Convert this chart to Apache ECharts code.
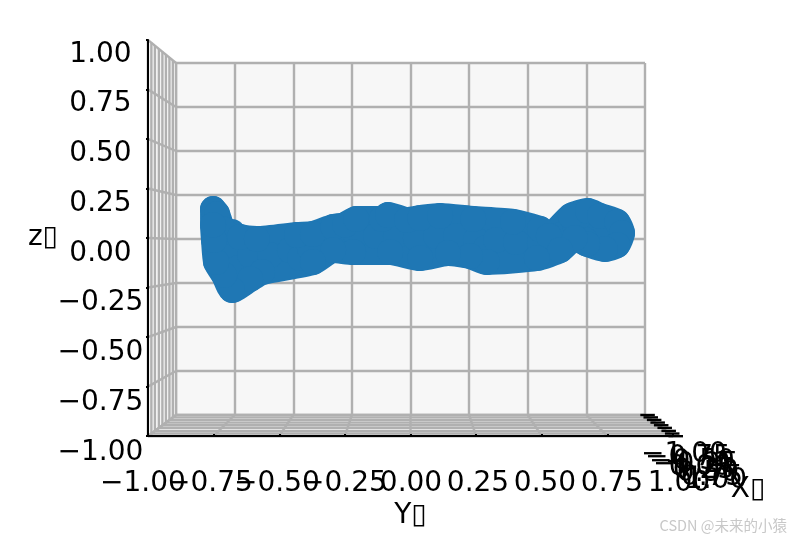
<!DOCTYPE html>
<html>
<head>
<meta charset="utf-8">
<script src="https://cdn.jsdelivr.net/npm/echarts@6/dist/echarts.min.js"></script>
<style>
  html, body { margin: 0; padding: 0; background: #fff; }
  #main { width: 793px; height: 539px; }
</style>
</head>
<body>
<div id="main"></div>
<script>
// tick values and labels (the same on all three axes)
const ticks = [-1, -0.75, -0.5, -0.25, 0, 0.25, 0.5, 0.75, 1];
const tickLabels = ['−1.00', '−0.75', '−0.50', '−0.25', '0.00', '0.25', '0.50', '0.75', '1.00'];
// how much bigger each x tick plane is than the back wall (perspective)
const depth = [1, 1.0135, 1.028, 1.043, 1.058, 1.073, 1.09, 1.105, 1.12];

// body silhouette: dots round the rim
const rimY = [-0.842, -0.825, -0.800, -0.727, -0.655, -0.484, -0.416, -0.330, -0.279, -0.232, -0.122, -0.096, -0.015, 0.041, 0.126, 0.267, 0.437, 0.552, 0.590, 0.684, 0.757, 0.808, 0.881, 0.902, 0.881, 0.829, 0.753, 0.701, 0.638, 0.539, 0.326, 0.254, 0.160, 0.041, -0.087, -0.245, -0.330, -0.416, -0.633, -0.684, -0.761, -0.795, -0.829, -0.838, -0.842];
const rimZ = [0.170, 0.142, 0.057, 0.011, 0, 0.023, 0.028, 0.068, 0.080, 0.114, 0.114, 0.136, 0.108, 0.119, 0.131, 0.114, 0.097, 0.057, 0.017, 0.131, 0.159, 0.131, 0.097, 0.034, -0.034, -0.057, -0.028, 0.006, -0.063, -0.108, -0.131, -0.097, -0.080, -0.108, -0.074, -0.074, -0.063, -0.131, -0.188, -0.227, -0.290, -0.205, -0.131, -0.006, 0.080];
// and dots inside it
const innerY = [-0.761, -0.736, -0.761, -0.684, -0.599, -0.514, -0.471, -0.429, -0.279, -0.232, -0.147, -0.062, 0.023, 0.109, 0.194, 0.279, 0.322, 0.365, 0.450, 0.552, 0.638, 0.701, 0.765, 0.808, 0.744];
const innerZ = [-0.063, -0.165, 0.040, -0.091, -0.091, -0.063, -0.108, -0.051, -0.006, 0.023, 0.017, 0.017, 0.006, 0.017, 0.017, -0.006, -0.051, -0.006, -0.017, -0.023, 0.023, 0.080, 0.063, 0.040, -0.006];

const font = 'DejaVu Sans';
const gridColor = '#b0b0b0';
const blue = '#1f77b4';
const dotSize = 26;
const fontSize = 28;

const chart = echarts.init(document.getElementById('main'), null, { renderer: 'canvas' });

// z on a plane at depth s, the front plane sits about a pixel higher than the back one
function zAt(z, s) {
  return z * (1 + (s - 1) * 1.05) + (s - 1) * 0.047;
}
const front = depth[depth.length - 1];

// left wall and floor panes
const panes = [
  [[-1, -1], [-front, zAt(-1, front)], [-front, zAt(1, front)], [-1, 1]],
  [[-1, -1], [-front, zAt(-1, front)], [front, zAt(-1, front)], [1, -1]]
];
// grey lines on left wall and floor
const wallLines = [];
depth.forEach(s => {
  wallLines.push([-s, zAt(-1, s), -s, zAt(1, s)]);
  wallLines.push([-s, zAt(-1, s), s, zAt(-1, s)]);
});
ticks.forEach(t => {
  wallLines.push([-1, t, -front, zAt(t, front)]);
  wallLines.push([t, -1, t * front, zAt(-1, front)]);
});
// x axis ticks, right of the floor
const xTickMarks = depth.map(s => [s - 0.02, zAt(-1, s), s + 0.042, zAt(-1, s)]);

function renderSegment(params, api) {
  const a = api.coord([api.value(0), api.value(1)]);
  const b = api.coord([api.value(2), api.value(3)]);
  return {
    type: 'line',
    shape: { x1: a[0], y1: a[1], x2: b[0], y2: b[1] },
    style: { stroke: api.visual('color'), lineWidth: 2.4 }
  };
}

const axisBase = { type: 'value', min: -1, max: 1, interval: 0.25 };
// label axes run one step past the ends, otherwise echarts drops a label next to the overlapping min
const labelAxis = { type: 'value', min: -1.25, max: 1.25, interval: 0.25 };
const labelStyle = {
  fontFamily: font,
  fontSize: fontSize,
  color: '#000',
  formatter: v => tickLabels[Math.round((v + 1) / 0.25)] || ''
};

// the x axis labels pile up at the lower right corner
const xPile = tickLabels.map((t, i) => ({
  type: 'text',
  x: 684 + i * 4,
  y: 455 + i * 3.2,
  style: { text: t, font: fontSize + 'px "' + font + '"', fill: '#000', textAlign: 'center', textVerticalAlign: 'middle' }
}));

chart.setOption({
  animation: false,
  backgroundColor: '#fff',
  grid: [
    { left: 176, top: 63, width: 469, height: 352, show: true, backgroundColor: '#f7f7f7', borderWidth: 0 }, // back wall
    { left: 148, top: 40, width: 525, height: 396 },  // front edges
    { left: 76, top: 4.5, width: 670, height: 497.5 }   // tick labels
  ],
  xAxis: [
    Object.assign({}, axisBase, {
      gridIndex: 0,
      axisLine: { show: false }, axisTick: { show: false }, axisLabel: { show: false },
      splitLine: { show: true, lineStyle: { color: gridColor, width: 2.4 } }
    }),
    Object.assign({}, axisBase, {
      gridIndex: 1, z: 10,
      name: 'Y▯', nameLocation: 'middle', nameGap: 66,
      nameTextStyle: { fontFamily: font, fontSize: fontSize, color: '#000' },
      axisLine: { onZero: false, lineStyle: { color: '#000', width: 2 } },
      axisTick: { show: true, inside: true, length: 2, lineStyle: { color: '#000', width: 2 } },
      axisLabel: { show: false }, splitLine: { show: false }
    }),
    Object.assign({}, labelAxis, {
      gridIndex: 2,
      axisLine: { show: false }, axisTick: { show: false }, splitLine: { show: false },
      axisLabel: Object.assign({ margin: -32 }, labelStyle)
    })
  ],
  yAxis: [
    Object.assign({}, axisBase, {
      gridIndex: 0,
      axisLine: { show: false }, axisTick: { show: false }, axisLabel: { show: false },
      splitLine: { show: true, lineStyle: { color: gridColor, width: 2.4 } }
    }),
    Object.assign({}, axisBase, {
      gridIndex: 1, z: 10,
      name: 'z▯', nameLocation: 'middle', nameGap: 90, nameRotate: 0,
      nameTextStyle: { fontFamily: font, fontSize: fontSize, color: '#000' },
      axisLine: { onZero: false, lineStyle: { color: '#000', width: 2 } },
      axisTick: { show: true, length: 2, lineStyle: { color: '#000', width: 2 } },
      axisLabel: { show: false }, splitLine: { show: false }
    }),
    Object.assign({}, labelAxis, {
      gridIndex: 2,
      axisLine: { show: false }, axisTick: { show: false }, splitLine: { show: false },
      axisLabel: Object.assign({ margin: -24.5, align: 'center' }, labelStyle)
    })
  ],
  series: [
    {
      type: 'custom', xAxisIndex: 0, yAxisIndex: 0, z: 1, silent: true,
      data: panes.map((p, i) => [i]),
      renderItem: function (params, api) {
        return {
          type: 'polygon',
          shape: { points: panes[api.value(0)].map(p => api.coord(p)) },
          style: { fill: api.value(0) === 0 ? '#f9f9f9' : '#f4f4f4' }
        };
      }
    },
    {
      type: 'custom', xAxisIndex: 0, yAxisIndex: 0, z: 2, silent: true,
      itemStyle: { color: gridColor },
      data: wallLines, renderItem: renderSegment
    },
    {
      type: 'custom', xAxisIndex: 0, yAxisIndex: 0, z: 3, silent: true,
      itemStyle: { color: '#000' },
      data: xTickMarks, renderItem: renderSegment
    },
    {
      // thick closed line through the rim dots, keeps the edge of the blob smooth
      type: 'line', xAxisIndex: 0, yAxisIndex: 0, z: 4, silent: true,
      showSymbol: false, smooth: 0.2,
      data: rimY.concat(rimY[0]).map((y, i) => [y, rimZ.concat(rimZ[0])[i]]),
      lineStyle: { color: blue, width: dotSize, cap: 'round', join: 'round' }
    },
    {
      type: 'scatter', xAxisIndex: 0, yAxisIndex: 0, z: 5, silent: true,
      symbolSize: dotSize,
      itemStyle: { color: blue, opacity: 1 },
      data: innerY.map((y, i) => [y, innerZ[i]]).concat(rimY.map((y, i) => [y, rimZ[i]]))
    }
  ],
  graphic: xPile.concat([
    {
      type: 'text', x: 748, y: 490,
      style: { text: 'X▯', font: fontSize + 'px "' + font + '"', fill: '#000', textAlign: 'center', textVerticalAlign: 'middle' }
    },
    {
      type: 'text', right: 6, top: 518,
      style: { text: 'CSDN @未来的小猿', font: '14.5px "Noto Sans CJK SC"', fill: '#c8c8c8' }
    }
  ])
});
</script>
</body>
</html>
